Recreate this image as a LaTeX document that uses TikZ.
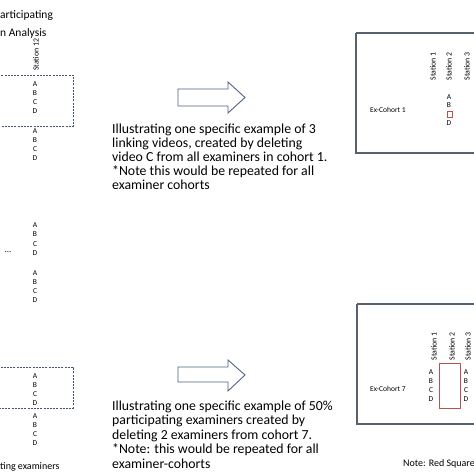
\documentclass[tikz,border=0pt]{standalone}
\usepackage{fontspec}
\setmainfont{Carlito}
\definecolor{dashc}{HTML}{44546A}
\definecolor{boxc}{HTML}{56636F}
\definecolor{arrc}{HTML}{4F6382}
\definecolor{redc}{HTML}{C0504D}
\tikzset{
  lett/.style={inner sep=0pt, font=\fontsize{7.5}{8}\selectfont},
  stat/.style={inner sep=0pt, rotate=90, font=\fontsize{7.8}{8}\selectfont},
  coh/.style={inner sep=0pt, anchor=west, font=\fontsize{7.5}{8}\selectfont},
  bigtxt/.style={inner sep=0pt, anchor=base west, font=\fontsize{13.8}{14}\selectfont},
  midtxt/.style={inner sep=0pt, anchor=base west, font=\fontsize{11.5}{12}\selectfont},
  smalltxt/.style={inner sep=0pt, anchor=base west, font=\fontsize{10}{11}\selectfont},
  dashbox/.style={draw=dashc, line width=0.9pt, dash pattern=on 2pt off 1.2pt},
  framebox/.style={draw=boxc, line width=1.1pt},
  fatarrow/.style={draw=arrc, line width=0.9pt, fill=white, line join=miter},
  redmark/.style={draw=redc, line width=0.8pt, inner sep=0pt}
}
\begin{document}
\begin{tikzpicture}[x=1pt,y=-1pt]
\useasboundingbox (0,0) rectangle (474,474);
\fill[white] (0,0) rectangle (474,474);

% top-left heading
\node[midtxt] (h1) at (0,18) {articipating};
\node[midtxt] (h2) at (0,36) {n Analysis};

% left column
\node[stat] (s12) at (36,55) {Station 12};
\draw[dashbox] (-5,75) rectangle (73,126);
\foreach \l [count=\i] in {A,B,C,D}{
  \node[lett] (ga\i) at (35,{84+9*(\i-1)}) {\l};
  \node[lett] (gb\i) at (35,{131+9*(\i-1)}) {\l};
  \node[lett] (gc\i) at (35,{225+9.3*(\i-1)}) {\l};
  \node[lett] (gd\i) at (35,{273+9*(\i-1)}) {\l};
  \node[lett] (ge\i) at (35,{376+9*(\i-1)}) {\l};
  \node[lett] (gf\i) at (35,{416+9*(\i-1)}) {\l};
}
\node[inner sep=0pt, font=\fontsize{9}{9}\selectfont] (dots) at (8,252) {...};
\draw[dashbox] (-5,367) rectangle (73,408);
\node[smalltxt] (foot1) at (0,469) {ting examiners};

% arrows
\draw[fatarrow] (178,89) -- (228,89) -- (228,82) -- (245,97.5) -- (228,113) -- (228,106) -- (178,106) -- cycle;
\draw[fatarrow] (178,367) -- (228,367) -- (228,360) -- (245,375) -- (228,391) -- (228,382) -- (178,382) -- cycle;

% middle texts
\node[bigtxt] (t11) at (112,133) {Illustrating one specific example of 3};
\node[bigtxt] (t12) at (112,147) {linking videos, created by deleting};
\node[bigtxt] (t13) at (112,161) {video C from all examiners in cohort 1.};
\node[bigtxt] (t14) at (112,175) {*Note this would be repeated for all};
\node[bigtxt] (t15) at (112,189) {examiner cohorts};

\node[bigtxt] (t21) at (112,410) {Illustrating one specific example of 50\%};
\node[bigtxt] (t22) at (112,424.5) {participating examiners created by};
\node[bigtxt] (t23) at (112,439) {deleting 2 examiners from cohort 7.};
\node[bigtxt] (t24) at (112,453.5) {*Note: this would be repeated for all};
\node[bigtxt] (t25) at (112,468) {examiner-cohorts};

% right box 1
\draw[framebox] (356,33) -- (480,33) (356,33) -- (356,153) -- (480,153);
\node[coh] (c1) at (370,110) {Ex-Cohort 1};
\node[stat] (r1s1) at (433,66.5) {Station 1};
\node[stat] (r1s2) at (449,66.5) {Station 2};
\node[stat] (r1s3) at (467,66.5) {Station 3};
\node[lett] (r1a) at (449,97) {A};
\node[lett] (r1b) at (449,105.5) {B};
\node[redmark, minimum size=5.5pt] (r1c) at (450,114.5) {};
\node[lett] (r1d) at (449,123) {D};

% right box 2
\draw[framebox] (357,304) -- (480,304) (357,304) -- (357,424) -- (480,424);
\node[coh] (c7) at (370,389) {Ex-Cohort 7};
\node[stat] (r2s1) at (434,346.5) {Station 1};
\node[stat] (r2s2) at (452,346.5) {Station 2};
\node[stat] (r2s3) at (468,346.5) {Station 3};
\foreach \l [count=\i] in {A,B,C,D}{
  \node[lett] (r2l\i) at (431,{372+9*(\i-1)}) {\l};
  \node[lett] (r2r\i) at (466,{372+9*(\i-1)}) {\l};
}
\draw[draw=redc, line width=0.8pt] (439,363) rectangle (460,408);
\node[smalltxt] (foot2) at (403,466) {Note: Red Square};
\end{tikzpicture}
\end{document}
